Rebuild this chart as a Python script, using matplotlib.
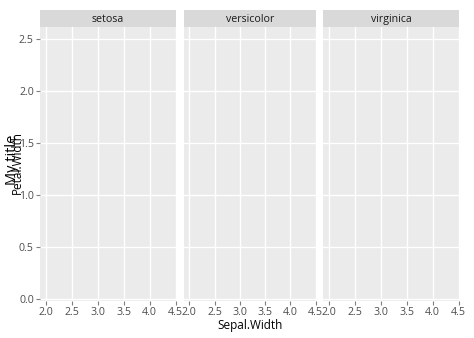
import matplotlib.pyplot as plt
import numpy as np

plt.rcParams['font.family'] = ['Open Sans', 'DejaVu Sans']

species = ['setosa', 'versicolor', 'virginica']
x_ticks = [2.0, 2.5, 3.0, 3.5, 4.0, 4.5]
x_labels = ['2.0', '2.5', '3.0', '3.5', '4.0', '4.5']
y_ticks = [0.0, 0.5, 1.0, 1.5, 2.0, 2.5]
y_labels = ['0.0', '0.5', '1.0', '1.5', '2.0', '2.5']

W, H = 474, 338
fig = plt.figure(figsize=(W / 100, H / 100), dpi=100)

# panel pixel extents (left, right)
panels = [(40, 176), (183.5, 316), (323, 459)]
top, strip_top, bottom = 26.5, 10, 301

gray = '#4d4d4d'
for i, (name, (l, r)) in enumerate(zip(species, panels)):
    ax = fig.add_axes([l / W, 1 - bottom / H, (r - l) / W, (bottom - top) / H])
    ax.set_facecolor('#EBEBEB')
    ax.set_xlim(1.885, 4.508)
    ax.set_ylim(-0.015, 2.625)
    ax.set_xticks(x_ticks)
    ax.set_xticklabels(x_labels)
    ax.set_yticks(y_ticks)
    ax.set_yticklabels(y_labels if i == 0 else [])
    ax.grid(True, color='white', linewidth=1.0)
    ax.set_axisbelow(True)
    for s in ax.spines.values():
        s.set_visible(False)
    ax.tick_params(axis='both', colors='#7f7f7f', labelcolor=gray, labelsize=7.7,
                   length=3, width=0.8, pad=1.5)
    if i > 0:
        ax.tick_params(axis='y', length=0)
    # strip
    sax = fig.add_axes([l / W, 1 - top / H, (r - l) / W, (top - strip_top) / H])
    sax.set_facecolor('#D9D9D9')
    sax.set_xticks([])
    sax.set_yticks([])
    for s in sax.spines.values():
        s.set_visible(False)
    sax.text(0.5, 0.45, name, ha='center', va='center', fontsize=7.7, color='#1a1a1a',
             transform=sax.transAxes)

fig.text(250 / W, 1 - 325 / H, 'Sepal.Width', ha='center', va='center', fontsize=8.5, color='black')
fig.text(17 / W, 1 - 162 / H, 'Petal.Width', ha='center', va='center', rotation=90, fontsize=8.5,
         color='black')
fig.text(12 / W, 1 - 160 / H, 'My title', ha='center', va='center', rotation=90, fontsize=10.5,
         color='black')

plt.savefig('out.png', dpi=100)
